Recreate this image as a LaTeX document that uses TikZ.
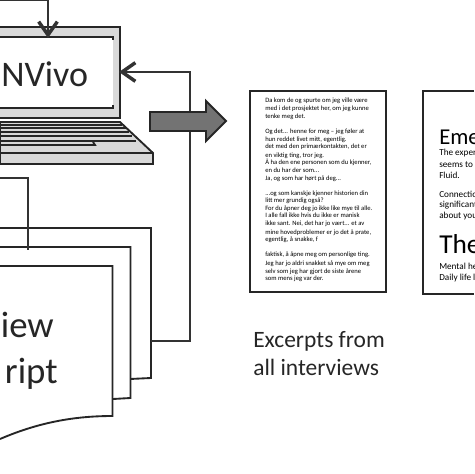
\documentclass[tikz,border=0pt]{standalone}
\usepackage{fontspec}
\setmainfont{Carlito}
\usetikzlibrary{arrows.meta,positioning}

\begin{document}
\begin{tikzpicture}[x=0.75pt, y=-0.75pt,
    ink/.style={draw=black!85, line width=1.4pt, line join=miter},
    wire/.style={draw=black!80, line width=1.1pt},
    feed/.style={wire, -{Straight Barb[length=10pt, width=14pt, line width=2.6pt]}},
    sheet/.style={ink, fill=white},
    bigword/.style={anchor=base east, font=\fontsize{27.6}{28}\selectfont, text=black!85, inner sep=0pt},
    exline/.style={anchor=base west, font=\fontsize{4.95}{6}\selectfont, inner sep=0pt},
    thline/.style={anchor=base west, font=\fontsize{6.9}{8}\selectfont, inner sep=0pt},
    capline/.style={anchor=base west, font=\fontsize{17.6}{18}\selectfont, text=black!85, inner sep=0pt},
    headline/.style={anchor=base west, font=\fontsize{17}{18}\selectfont, inner sep=0pt}
    ]
    \useasboundingbox (0,0) rectangle (474,474);

    % laptop
    \draw[ink, fill=black!15] (0,27) -- (120,27) -- (120,118) -- (0,118);
    \fill[white] (0,37) rectangle (113,108);
    \draw[ink] (0,37) -- (113,37) -- (113,40);
    \draw[ink] (0,108) -- (113,108) -- (113,105);
    \draw[ink, fill=black!15] (0,122) -- (120,122) -- (153,153) -- (153,164) -- (0,164) -- cycle;
    \draw[ink] (0,153) -- (153,153);
    \draw[ink] (0,125) -- (122,125);
    \draw[ink] (0,128) -- (126,128);
    \draw[ink] (0,132) -- (129,132);
    \draw[ink, line width=1.8pt] (0,136) -- (132,136);
    \draw[ink] (0,141) -- (136,141);
    \draw[ink] (0,145) -- (95,145) -- (93,142);
    \node[anchor=base west, font=\fontsize{27}{27}\selectfont, text=black!85, inner sep=0pt] (nvivo) at (1,87) {NVivo};

    % transcripts
    \draw[sheet] (0,228) -- (151,228) -- (151,378) -- (130,379);
    \draw[sheet] (0,247) -- (130.5,247) -- (130.5,398) -- (113,399);
    \draw[sheet] (0,266) -- (112.5,266) -- (112.5,416) .. controls (70,416) and (35,424) .. (0,439);
    \node[bigword] (iew) at (54,337) {iew};
    \node[bigword] (ript) at (58,383) {ript};

    % connectors
    \coordinate (topend) at (0,0);
    \coordinate (screentop) at (48,38);
    \coordinate (screenside) at (119,72);
    \coordinate (stackside) at (151,341);
    \coordinate (leftend) at (0,178);
    \coordinate (stacktop) at (28,250);
    \draw[feed] (topend) -| (screentop);
    \draw[feed] (stackside) -- ++(39,0) |- (screenside);
    \draw[wire] (leftend) -| (stacktop);

    % block arrow
    \draw[ink, fill=black!55] (150,112) -- (206,112) -- (206,101) -- (226,121) -- (206,141) -- (206,131) -- (150,131) -- cycle;

    % excerpts page
    \node[draw=black!85, line width=1.5pt, minimum width=102pt, minimum height=151pt, inner sep=0pt] (excerpts) at (317.5,191.5) {};
    \node[exline] (ex1) at (265,103) {Da kom de og spurte om jeg ville være};
    \node[exline] (ex2) at (265,110.5) {med i det prosjektet her, om jeg kunne};
    \node[exline] (ex3) at (265,119) {tenke meg det.};
    \node[exline] (ex4) at (265,133.5) {Og det... henne for meg – jeg føler at};
    \node[exline] (ex5) at (265,142) {hun reddet livet mitt, egentlig.};
    \node[exline] (ex6) at (265,148.5) {det med den primærkontakten, det er};
    \node[exline] (ex7) at (265,157.5) {en viktig ting, tror jeg.};
    \node[exline] (ex8) at (265,164) {Å ha den ene personen som du kjenner,};
    \node[exline] (ex9) at (265,172.5) {en du har der som...};
    \node[exline] (ex10) at (265,180.5) {Ja, og som har hørt på deg...};
    \node[exline] (ex11) at (265,195.5) {...og som kanskje kjenner historien din};
    \node[exline] (ex12) at (265,202.5) {litt mer grundig også?};
    \node[exline] (ex13) at (265,210.5) {For du åpner deg jo ikke like mye til alle.};
    \node[exline] (ex14) at (265,217) {I alle fall ikke hvis du ikke er manisk};
    \node[exline] (ex15) at (265,225.5) {ikke sant. Nei, det har jo vært... et av};
    \node[exline] (ex16) at (265,234.5) {mine hovedproblemer er jo det å prate,};
    \node[exline] (ex17) at (265,241.5) {egentlig, å snakke, f};
    \node[exline] (ex18) at (265,256.5) {faktisk, å åpne meg om personlige ting.};
    \node[exline] (ex19) at (265,265) {Jeg har jo aldri snakket så mye om meg};
    \node[exline] (ex20) at (265,273.5) {selv som jeg har gjort de siste årene};
    \node[exline] (ex21) at (265,280) {som mens jeg var der.};
    \node[capline] (cap1) at (253,347) {Excerpts from};
    \node[capline] (cap2) at (253,375) {all interviews};

    % themes page
    \draw[draw=black!85, line width=1.5pt] (474,91) -- (423,91) -- (423,294) -- (474,294);
    \node[headline] (eme) at (439,144) {Eme};
    \node[thline] (th1) at (439,156) {The exper};
    \node[thline] (th2) at (439,167.5) {seems to l};
    \node[thline] (th3) at (439,178) {Fluid.};
    \node[thline] (th4) at (439,197) {Connectio};
    \node[thline] (th5) at (439,207) {significant};
    \node[thline] (th6) at (439,218) {about you};
    \node[headline, font=\fontsize{20.5}{21}\selectfont] (the) at (439,253) {The};
    \node[thline] (th7) at (439,269) {Mental he};
    \node[thline] (th8) at (439,280) {Daily life li};
\end{tikzpicture}
\end{document}
